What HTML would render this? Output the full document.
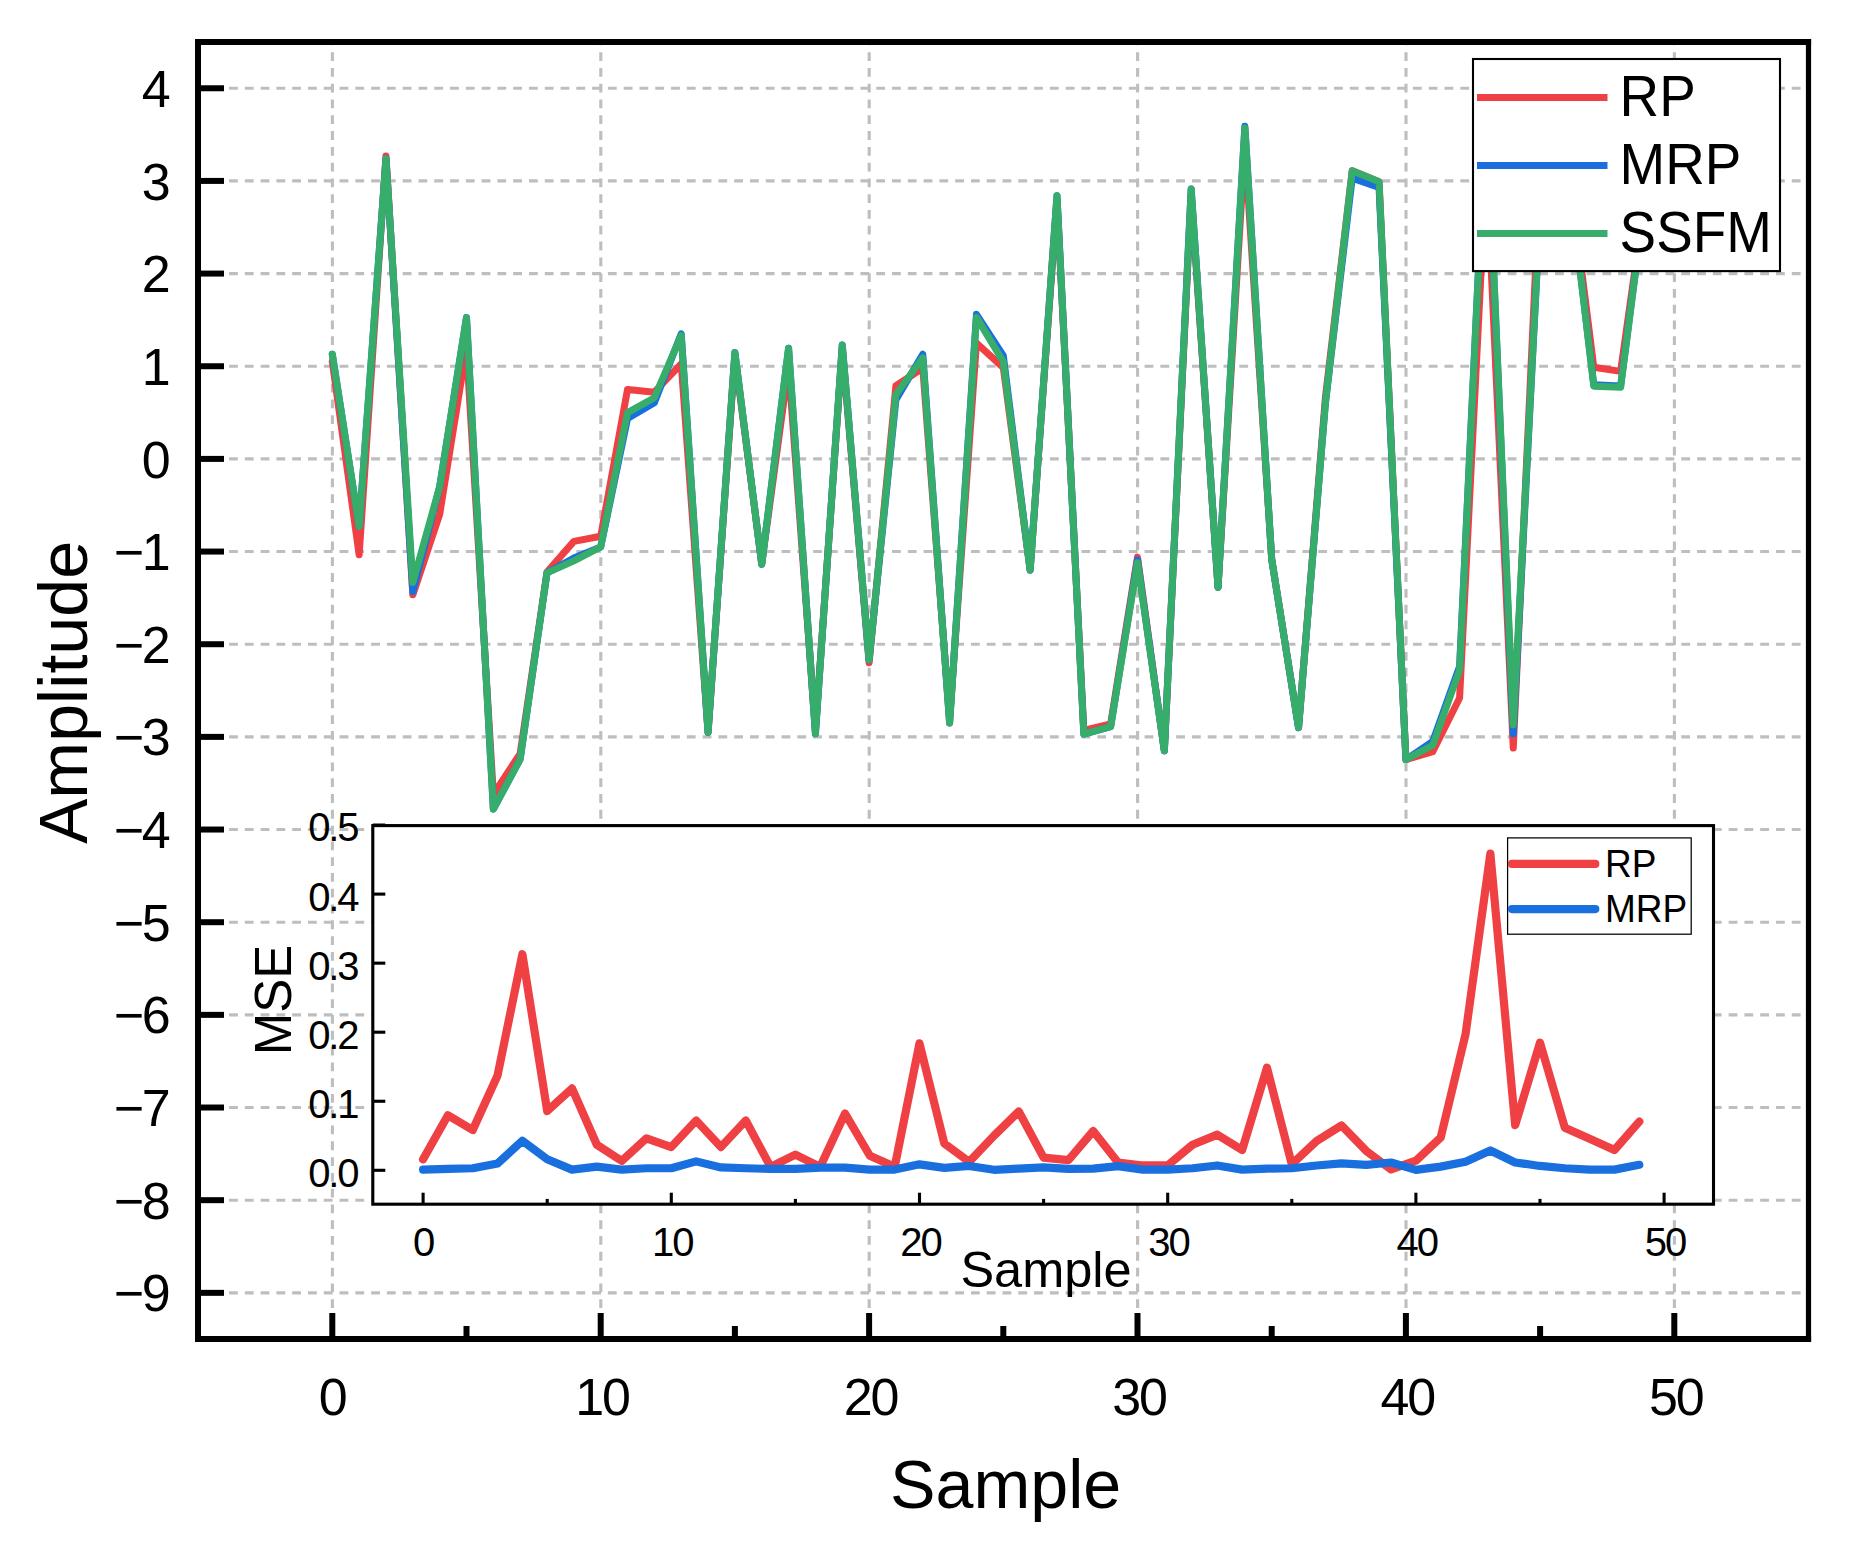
<!DOCTYPE html>
<html lang="en"><head><meta charset="utf-8"><title>Amplitude vs Sample</title>
<style>html,body{margin:0;padding:0;background:#fff}svg{display:block}text{font-family:"Liberation Sans", sans-serif;fill:#000}</style></head><body>
<svg width="1851" height="1546" viewBox="0 0 1851 1546" role="img" aria-label="Amplitude versus sample chart with MSE inset">
<rect x="0" y="0" width="1851" height="1546" fill="#fff"/>
<g stroke="#bebebe" stroke-width="3.1" fill="none" stroke-dasharray="8.8 6.985">
<line x1="332.40" y1="42.0" x2="332.40" y2="1339.0" stroke-dashoffset="5.6"/>
<line x1="600.80" y1="42.0" x2="600.80" y2="1339.0" stroke-dashoffset="5.6"/>
<line x1="869.20" y1="42.0" x2="869.20" y2="1339.0" stroke-dashoffset="5.6"/>
<line x1="1137.60" y1="42.0" x2="1137.60" y2="1339.0" stroke-dashoffset="5.6"/>
<line x1="1406.00" y1="42.0" x2="1406.00" y2="1339.0" stroke-dashoffset="5.6"/>
<line x1="1674.40" y1="42.0" x2="1674.40" y2="1339.0" stroke-dashoffset="5.6"/>
<line x1="197.5" y1="88.26" x2="1808.5" y2="88.26"/>
<line x1="197.5" y1="180.92" x2="1808.5" y2="180.92"/>
<line x1="197.5" y1="273.58" x2="1808.5" y2="273.58"/>
<line x1="197.5" y1="366.24" x2="1808.5" y2="366.24"/>
<line x1="197.5" y1="458.90" x2="1808.5" y2="458.90"/>
<line x1="197.5" y1="551.56" x2="1808.5" y2="551.56"/>
<line x1="197.5" y1="644.22" x2="1808.5" y2="644.22"/>
<line x1="197.5" y1="736.88" x2="1808.5" y2="736.88"/>
<line x1="197.5" y1="829.54" x2="1808.5" y2="829.54"/>
<line x1="197.5" y1="922.20" x2="1808.5" y2="922.20"/>
<line x1="197.5" y1="1014.86" x2="1808.5" y2="1014.86"/>
<line x1="197.5" y1="1107.52" x2="1808.5" y2="1107.52"/>
<line x1="197.5" y1="1200.18" x2="1808.5" y2="1200.18"/>
<line x1="197.5" y1="1292.84" x2="1808.5" y2="1292.84"/>
</g>
<g fill="none" stroke-width="7" stroke-linejoin="round" stroke-linecap="round">
<polyline stroke="#EF4043" points="332.30,361.61 359.14,554.80 385.98,155.90 412.82,594.83 439.66,514.50 466.50,347.71 493.34,794.33 520.18,753.56 547.02,571.95 573.86,541.37 600.70,536.27 627.54,389.40 654.38,392.18 681.22,363.83 708.06,732.25 734.90,356.05 761.74,563.61 788.58,366.24 815.42,730.39 842.26,348.63 869.10,662.75 895.94,385.70 922.78,368.09 949.62,719.27 976.46,343.07 1003.30,367.63 1030.14,570.09 1056.98,200.38 1083.82,730.39 1110.66,723.91 1137.50,557.12 1164.34,750.78 1191.18,194.82 1218.02,587.23 1244.86,145.71 1271.70,558.97 1298.54,727.61 1325.38,397.74 1352.22,170.73 1379.06,181.85 1405.90,759.58 1432.74,751.71 1459.58,697.96 1486.42,165.17 1513.26,748.00 1540.10,171.65 1566.94,153.12 1593.78,367.17 1620.62,371.34 1647.46,180.92"/>
<polyline stroke="#1A6FDF" points="332.30,354.19 359.14,526.54 385.98,158.68 412.82,591.68 439.66,486.70 466.50,317.59 493.34,809.15 520.18,759.12 547.02,572.87 573.86,558.05 600.70,546.93 627.54,418.59 654.38,402.66 681.22,333.81 708.06,732.25 734.90,352.62 761.74,564.25 788.58,348.26 815.42,733.73 842.26,345.11 869.10,659.97 895.94,399.60 922.78,354.19 949.62,722.98 976.46,314.35 1003.30,355.58 1030.14,570.09 1056.98,195.75 1083.82,734.10 1110.66,726.69 1137.50,559.90 1164.34,750.78 1191.18,188.98 1218.02,587.23 1244.86,126.25 1271.70,559.34 1298.54,727.61 1325.38,403.30 1352.22,178.14 1379.06,187.41 1405.90,759.58 1432.74,741.51 1459.58,666.46 1486.42,102.16 1513.26,733.73 1540.10,210.57 1566.94,159.61 1593.78,384.77 1620.62,385.98 1647.46,179.07"/>
<polyline stroke="#37AD6B" points="332.30,354.19 359.14,526.54 385.98,158.68 412.82,582.60 439.66,486.70 466.50,317.59 493.34,809.15 520.18,759.12 547.02,572.87 573.86,560.83 600.70,546.93 627.54,412.57 654.38,397.74 681.22,335.38 708.06,732.25 734.90,352.62 761.74,564.25 788.58,348.26 815.42,733.73 842.26,345.11 869.10,659.97 895.94,394.50 922.78,357.90 949.62,722.98 976.46,317.41 1003.30,361.61 1030.14,570.09 1056.98,195.75 1083.82,734.10 1110.66,726.69 1137.50,562.68 1164.34,750.78 1191.18,188.98 1218.02,587.23 1244.86,128.10 1271.70,559.34 1298.54,727.61 1325.38,403.30 1352.22,170.73 1379.06,181.85 1405.90,759.58 1432.74,745.22 1459.58,670.16 1486.42,102.16 1513.26,724.83 1540.10,210.57 1566.94,159.61 1593.78,386.16 1620.62,387.37 1647.46,179.07"/>
</g>
<g stroke="#000" stroke-width="6" fill="none" stroke-linecap="butt">
<path d="M1811.1 42.0H198.0V1339.0H1811.1" stroke-linejoin="miter" stroke-linecap="butt"/>
<line x1="1808.5" y1="39.0" x2="1808.5" y2="1342.0" stroke-width="5.2"/>
<line x1="198.0" y1="88.26" x2="224.0" y2="88.26"/>
<line x1="198.0" y1="180.92" x2="224.0" y2="180.92"/>
<line x1="198.0" y1="273.58" x2="224.0" y2="273.58"/>
<line x1="198.0" y1="366.24" x2="224.0" y2="366.24"/>
<line x1="198.0" y1="458.90" x2="224.0" y2="458.90"/>
<line x1="198.0" y1="551.56" x2="224.0" y2="551.56"/>
<line x1="198.0" y1="644.22" x2="224.0" y2="644.22"/>
<line x1="198.0" y1="736.88" x2="224.0" y2="736.88"/>
<line x1="198.0" y1="829.54" x2="224.0" y2="829.54"/>
<line x1="198.0" y1="922.20" x2="224.0" y2="922.20"/>
<line x1="198.0" y1="1014.86" x2="224.0" y2="1014.86"/>
<line x1="198.0" y1="1107.52" x2="224.0" y2="1107.52"/>
<line x1="198.0" y1="1200.18" x2="224.0" y2="1200.18"/>
<line x1="198.0" y1="1292.84" x2="224.0" y2="1292.84"/>
<line x1="332.30" y1="1339.0" x2="332.30" y2="1313.0"/>
<line x1="600.70" y1="1339.0" x2="600.70" y2="1313.0"/>
<line x1="869.10" y1="1339.0" x2="869.10" y2="1313.0"/>
<line x1="1137.50" y1="1339.0" x2="1137.50" y2="1313.0"/>
<line x1="1405.90" y1="1339.0" x2="1405.90" y2="1313.0"/>
<line x1="1674.30" y1="1339.0" x2="1674.30" y2="1313.0"/>
<line x1="466.50" y1="1339.0" x2="466.50" y2="1326.0"/>
<line x1="734.90" y1="1339.0" x2="734.90" y2="1326.0"/>
<line x1="1003.30" y1="1339.0" x2="1003.30" y2="1326.0"/>
<line x1="1271.70" y1="1339.0" x2="1271.70" y2="1326.0"/>
<line x1="1540.10" y1="1339.0" x2="1540.10" y2="1326.0"/>
</g>
<g font-size="52" text-anchor="end">
<text x="170.6" y="106.86">4</text>
<text x="170.6" y="199.52">3</text>
<text x="170.6" y="292.18">2</text>
<text x="170.6" y="384.84">1</text>
<text x="170.6" y="477.50">0</text>
<text x="170.6" y="570.16">−<tspan dx="-2.5">1</tspan></text>
<text x="170.6" y="662.82">−<tspan dx="-2.5">2</tspan></text>
<text x="170.6" y="755.48">−<tspan dx="-2.5">3</tspan></text>
<text x="170.6" y="848.14">−<tspan dx="-2.5">4</tspan></text>
<text x="170.6" y="940.80">−<tspan dx="-2.5">5</tspan></text>
<text x="170.6" y="1033.46">−<tspan dx="-2.5">6</tspan></text>
<text x="170.6" y="1126.12">−<tspan dx="-2.5">7</tspan></text>
<text x="170.6" y="1218.78">−<tspan dx="-2.5">8</tspan></text>
<text x="170.6" y="1311.44">−<tspan dx="-2.5">9</tspan></text>
</g>
<g font-size="52" text-anchor="middle">
<text x="333.10" y="1414.9">0</text>
<text x="602.10" y="1414.9" letter-spacing="-2.2">10</text>
<text x="870.50" y="1414.9" letter-spacing="-2.2">20</text>
<text x="1138.90" y="1414.9" letter-spacing="-2.2">30</text>
<text x="1407.30" y="1414.9" letter-spacing="-2.2">40</text>
<text x="1675.70" y="1414.9" letter-spacing="-2.2">50</text>
</g>
<text x="1005.7" y="1508.2" font-size="68.2" text-anchor="middle">Sample</text>
<text transform="translate(87,692.5) rotate(-90)" font-size="68.2" text-anchor="middle">Amplitude</text>
<rect x="1473" y="59" width="307" height="212.1" fill="#fff" stroke="#000" stroke-width="2.1"/>
<g stroke-width="7" stroke-linecap="butt" fill="none">
<line x1="1477" y1="97.5" x2="1607.5" y2="97.5" stroke="#EF4043"/>
<line x1="1477" y1="165.5" x2="1607.5" y2="165.5" stroke="#1A6FDF"/>
<line x1="1477" y1="233.5" x2="1607.5" y2="233.5" stroke="#37AD6B"/>
</g>
<g font-size="54.8">
<text transform="translate(1619.6,115.7) scale(1,1.035)">RP</text>
<text transform="translate(1619.6,183.8) scale(1,1.035)">MRP</text>
<text transform="translate(1619.6,251.8) scale(1,1.035)">SSFM</text>
</g>
<rect x="372.8" y="825.6" width="1340.7" height="378.6" fill="#fff" stroke="none"/>
<g fill="none" stroke-width="8.2" stroke-linejoin="round" stroke-linecap="round">
<polyline stroke="#EF4043" points="423.10,1159.32 447.92,1115.20 472.74,1130.04 497.56,1075.43 522.38,954.17 547.20,1111.06 572.02,1088.41 596.84,1144.75 621.66,1160.91 646.48,1138.33 671.30,1147.03 696.12,1120.51 720.94,1147.03 745.76,1120.51 770.58,1166.85 795.40,1154.63 820.22,1166.85 845.04,1113.47 869.86,1155.80 894.68,1166.85 919.50,1043.39 944.32,1143.51 969.14,1161.81 993.96,1135.77 1018.78,1111.54 1043.60,1157.66 1068.42,1160.08 1093.24,1131.01 1118.06,1162.50 1142.88,1165.47 1167.70,1165.47 1192.52,1144.75 1217.34,1134.67 1242.16,1150.00 1266.98,1067.76 1291.80,1164.22 1316.62,1141.09 1341.44,1125.42 1366.26,1150.97 1391.08,1169.47 1415.90,1160.63 1440.72,1137.43 1465.54,1034.27 1490.36,853.57 1515.18,1125.14 1540.00,1042.70 1564.82,1127.70 1589.64,1138.68 1614.46,1150.00 1639.28,1121.62"/>
<polyline stroke="#1A6FDF" points="423.10,1169.61 447.92,1168.92 472.74,1168.23 497.56,1163.46 522.38,1140.75 547.20,1159.32 572.02,1169.61 596.84,1166.64 621.66,1169.61 646.48,1168.23 671.30,1168.23 696.12,1161.39 720.94,1167.40 745.76,1168.23 770.58,1168.92 795.40,1168.92 820.22,1167.54 845.04,1167.54 869.86,1169.61 894.68,1169.61 919.50,1164.36 944.32,1167.88 969.14,1165.95 993.96,1169.82 1018.78,1168.57 1043.60,1167.40 1068.42,1168.92 1093.24,1168.57 1118.06,1166.16 1142.88,1169.61 1167.70,1169.61 1192.52,1168.23 1217.34,1165.47 1242.16,1169.61 1266.98,1168.57 1291.80,1168.23 1316.62,1165.47 1341.44,1163.46 1366.26,1164.91 1391.08,1162.50 1415.90,1169.82 1440.72,1166.64 1465.54,1161.81 1490.36,1150.48 1515.18,1162.50 1540.00,1165.95 1564.82,1168.23 1589.64,1169.61 1614.46,1169.61 1639.28,1164.78"/>
</g>
<g stroke="#000" stroke-width="3.1" fill="none" stroke-linecap="butt">
<rect x="372.8" y="825.6" width="1340.7" height="378.6"/>
<line x1="372.8" y1="1170.30" x2="385.3" y2="1170.30"/>
<line x1="372.8" y1="1101.25" x2="385.3" y2="1101.25"/>
<line x1="372.8" y1="1032.20" x2="385.3" y2="1032.20"/>
<line x1="372.8" y1="963.15" x2="385.3" y2="963.15"/>
<line x1="372.8" y1="894.10" x2="385.3" y2="894.10"/>
<line x1="372.8" y1="825.05" x2="385.3" y2="825.05"/>
<line x1="423.10" y1="1204.2" x2="423.10" y2="1192.7"/>
<line x1="671.30" y1="1204.2" x2="671.30" y2="1192.7"/>
<line x1="919.50" y1="1204.2" x2="919.50" y2="1192.7"/>
<line x1="1167.70" y1="1204.2" x2="1167.70" y2="1192.7"/>
<line x1="1415.90" y1="1204.2" x2="1415.90" y2="1192.7"/>
<line x1="1664.10" y1="1204.2" x2="1664.10" y2="1192.7"/>
<line x1="547.20" y1="1204.2" x2="547.20" y2="1198.9"/>
<line x1="795.40" y1="1204.2" x2="795.40" y2="1198.9"/>
<line x1="1043.60" y1="1204.2" x2="1043.60" y2="1198.9"/>
<line x1="1291.80" y1="1204.2" x2="1291.80" y2="1198.9"/>
<line x1="1540.00" y1="1204.2" x2="1540.00" y2="1198.9"/>
</g>
<g font-size="40" text-anchor="end" letter-spacing="-2.2">
<text x="357.2" y="1186.70">0.0</text>
<text x="357.2" y="1117.65">0.1</text>
<text x="357.2" y="1048.60">0.2</text>
<text x="357.2" y="979.55">0.3</text>
<text x="357.2" y="910.50">0.4</text>
<text x="357.2" y="841.45">0.5</text>
</g>
<g font-size="40" text-anchor="middle">
<text x="424.00" y="1255.6">0</text>
<text x="672.20" y="1255.6" letter-spacing="-2">10</text>
<text x="920.40" y="1255.6" letter-spacing="-2">20</text>
<text x="1168.60" y="1255.6" letter-spacing="-2">30</text>
<text x="1416.80" y="1255.6" letter-spacing="-2">40</text>
<text x="1665.00" y="1255.6" letter-spacing="-2">50</text>
</g>
<text x="1046" y="1286.8" font-size="50.5" text-anchor="middle">Sample</text>
<text transform="translate(291.2,999.9) rotate(-90) scale(1,1.03)" font-size="51" text-anchor="middle">MSE</text>
<rect x="1507.6" y="837.9" width="183.6" height="96.3" fill="#fff" stroke="#000" stroke-width="1.25"/>
<g stroke-width="8.2" stroke-linecap="round" fill="none">
<line x1="1512" y1="863.9" x2="1595.3" y2="863.9" stroke="#EF4043"/>
<line x1="1512" y1="909.1" x2="1595.3" y2="909.1" stroke="#1A6FDF"/>
</g>
<g font-size="37">
<text transform="translate(1605,876.6) scale(1,1.03)">RP</text>
<text transform="translate(1605,921.9) scale(1,1.03)">MRP</text>
</g>
</svg></body></html>
